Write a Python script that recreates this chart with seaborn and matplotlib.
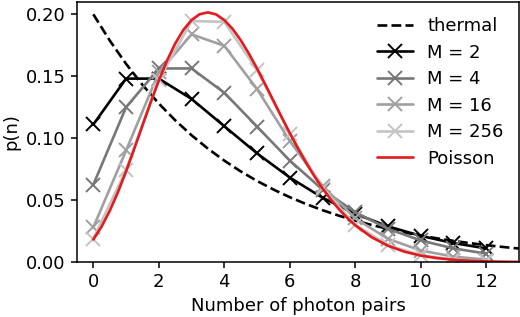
import numpy as np
import pandas as pd
import matplotlib
matplotlib.use("Agg")
import matplotlib.pyplot as plt
import seaborn as sns

# discrete photon numbers
n_vals = list(range(13))
m2 = [0.1111, 0.1481, 0.1481, 0.1317, 0.1097, 0.0878, 0.0683, 0.0520, 0.0390, 0.0289, 0.0212, 0.0154, 0.0111]
m4 = [0.0625, 0.1250, 0.1563, 0.1563, 0.1367, 0.1094, 0.0820, 0.0586, 0.0403, 0.0269, 0.0175, 0.0111, 0.0069]
m16 = [0.0281, 0.0901, 0.1531, 0.1838, 0.1746, 0.1397, 0.0978, 0.0615, 0.0353, 0.0188, 0.0094, 0.0045, 0.0020]
m256 = [0.0189, 0.0744, 0.1471, 0.1946, 0.1939, 0.1551, 0.1038, 0.0598, 0.0302, 0.0136, 0.0056, 0.0021, 0.0007]

# thermal curve (dashed)
th_x = [0, 0.5, 1, 1.5, 2, 2.5, 3, 3.5, 4, 4.5, 5, 5.5, 6, 6.5, 7, 7.5, 8, 8.5, 9, 9.5,
        10, 10.5, 11, 11.5, 12, 12.5, 13]
th_y = [0.2, 0.17889, 0.16, 0.14311, 0.128, 0.11449, 0.1024, 0.09159, 0.08192, 0.07327,
        0.065536, 0.05862, 0.052429, 0.04689, 0.041943, 0.03752, 0.033554, 0.03001,
        0.026844, 0.02401, 0.021475, 0.01921, 0.01718, 0.01537, 0.013744, 0.01229, 0.010995]

# Poisson curve (red)
po_x = [0, 0.25, 0.5, 0.75, 1, 1.25, 1.5, 1.75, 2, 2.25, 2.5, 2.75, 3, 3.25, 3.5, 3.75,
        4, 4.25, 4.5, 4.75, 5, 5.25, 5.5, 5.75, 6, 6.25, 6.5, 6.75, 7, 7.25, 7.5, 7.75,
        8, 8.5, 9, 9.5, 10, 10.5, 11, 11.5, 12, 12.5, 13]
po_y = [0.018316, 0.028577, 0.041334, 0.056367, 0.073263, 0.091446, 0.110224, 0.128838,
        0.146525, 0.162570, 0.176357, 0.187399, 0.195367, 0.200087, 0.201552, 0.199893,
        0.195367, 0.188318, 0.179157, 0.168333, 0.156293, 0.143480, 0.130296, 0.117100,
        0.104196, 0.091827, 0.080183, 0.069393, 0.059540, 0.050663, 0.042763, 0.035815,
        0.029770, 0.020124, 0.013231, 0.008473, 0.005292, 0.003228, 0.001925, 0.001123,
        0.000642, 0.000359, 0.000188]

x_ticks = [0, 2, 4, 6, 8, 10, 12]
y_ticks = [0.00, 0.05, 0.10, 0.15, 0.20]

sns.set_style("ticks")
plt.rcParams['font.family'] = ['DejaVu Sans']
plt.rcParams['font.size'] = 13
plt.rcParams['text.color'] = 'black'
plt.rcParams['axes.labelcolor'] = 'black'
plt.rcParams['xtick.color'] = 'black'
plt.rcParams['ytick.color'] = 'black'
plt.rcParams['axes.edgecolor'] = 'black'

fig = plt.figure(figsize=(5.2, 3.17), dpi=100)
ax = fig.add_axes([0.148, 0.173, 0.850, 0.821])

LW = 1.9
sns.lineplot(x=th_x, y=th_y, ax=ax, color='black', linewidth=LW, label='thermal',
             dashes=False)
ax.lines[-1].set_dashes([3.7, 1.6])
series = [(m2, 'M = 2', '#000000'), (m4, 'M = 4', '#777777'),
          (m16, 'M = 16', '#a0a0a0'), (m256, 'M = 256', '#c4c4c4')]
for vals, lab, col in series:
    sns.lineplot(x=n_vals, y=vals, ax=ax, color=col, marker='x', markersize=9.5,
                 markeredgewidth=1.4, markeredgecolor=col, markerfacecolor=col,
                 linewidth=LW, label=lab)
sns.lineplot(x=po_x, y=po_y, ax=ax, color='#e41a1c', linewidth=LW, label='Poisson')

ax.set_xlim(-0.5, 13)
ax.set_ylim(0, 0.21)
ax.set_xticks(x_ticks)
ax.set_yticks(y_ticks)
ax.set_yticklabels([f"{v:.2f}" for v in y_ticks])
ax.set_xlabel('Number of photon pairs', fontsize=13)
ax.set_ylabel('p(n)', fontsize=13)
ax.tick_params(labelsize=13, length=4.5, width=1.1)
for s in ax.spines.values():
    s.set_linewidth(1.1)
ax.legend(loc='upper right', frameon=False, fontsize=13, handlelength=2.0,
          borderaxespad=0.45, labelspacing=0.47)

fig.savefig('out.png', dpi=100)
